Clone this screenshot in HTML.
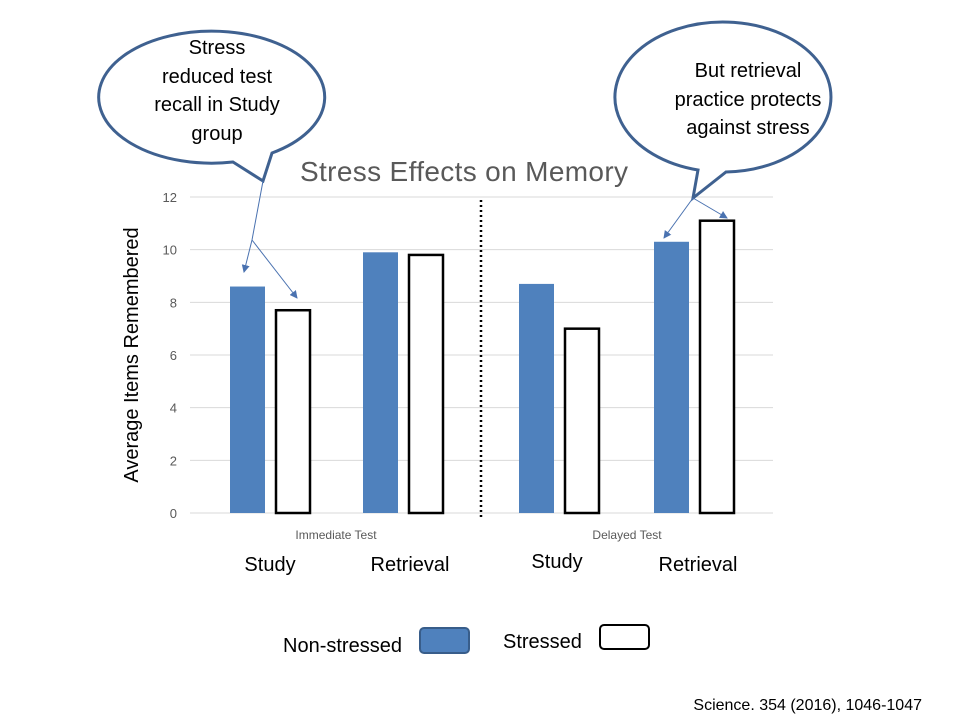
<!DOCTYPE html>
<html><head><meta charset="utf-8"><style>
body{margin:0;background:#fff;}
svg text{font-family:"Liberation Sans",sans-serif;}
</style></head><body>
<svg width="960" height="720" viewBox="0 0 960 720" xmlns="http://www.w3.org/2000/svg">
<defs><marker id="ah" markerWidth="8" markerHeight="8" refX="7" refY="4" orient="auto" markerUnits="userSpaceOnUse"><path d="M0,0 L8,4 L0,8 z" fill="#4a72b0"/></marker></defs>
<g id="grid"></g>
<g id="yticks"></g>
<g id="bars"></g>
<line x1="481" y1="200" x2="481" y2="520" stroke="#000" stroke-width="2.5" stroke-dasharray="2,3"/>
<text x="464" y="181" font-size="28" fill="#595959" text-anchor="middle" textLength="328">Stress Effects on Memory</text>
<text transform="translate(138,355) rotate(-90)" font-size="20" text-anchor="middle">Average Items Remembered</text>
<text x="336" y="539" font-size="12" fill="#595959" text-anchor="middle">Immediate Test</text>
<text x="627" y="539" font-size="12" fill="#595959" text-anchor="middle">Delayed Test</text>
<text x="270" y="571" font-size="20" text-anchor="middle">Study</text>
<text x="410" y="571" font-size="20" text-anchor="middle">Retrieval</text>
<text x="557" y="568" font-size="20" text-anchor="middle">Study</text>
<text x="698" y="571" font-size="20" text-anchor="middle">Retrieval</text>
<g>
<text x="283" y="652" font-size="20">Non-stressed</text>
<rect x="420" y="628" width="49" height="25" rx="4" fill="#4f81bd" stroke="#385d8a" stroke-width="2"/>
<text x="503" y="648" font-size="20">Stressed</text>
<rect x="600" y="625" width="49" height="24" rx="4" fill="#fff" stroke="#000" stroke-width="2"/>
</g>
<text x="922" y="710" font-size="16" text-anchor="end">Science. 354 (2016), 1046-1047</text>
<g>
<path d="M233,162 A113,66 0 1 1 272,153 L263,181 Z" fill="#fff" stroke="#3f6190" stroke-width="3" stroke-linejoin="miter"/>
<text font-size="20" text-anchor="middle"><tspan x="217" y="54">Stress</tspan><tspan x="217" y="83">reduced test</tspan><tspan x="217" y="111">recall in Study</tspan><tspan x="217" y="140">group</tspan></text>
</g>
<path d="M263,181 L252,240 L244,272" fill="none" stroke="#4a72b0" stroke-width="1" marker-end="url(#ah)"/>
<path d="M252,240 L297,298" fill="none" stroke="#4a72b0" stroke-width="1" marker-end="url(#ah)"/>
<g>
<path d="M698,170 A108,75 0 1 1 726,172 L693,198 Z" fill="#fff" stroke="#3f6190" stroke-width="3"/>
<text font-size="20" text-anchor="middle"><tspan x="748" y="77">But retrieval</tspan><tspan x="748" y="106">practice protects</tspan><tspan x="748" y="134">against stress</tspan></text>
</g>
<path d="M693,198 L664,238" fill="none" stroke="#4a72b0" stroke-width="1" marker-end="url(#ah)"/>
<path d="M693,198 L727,218" fill="none" stroke="#4a72b0" stroke-width="1" marker-end="url(#ah)"/>
</svg>
<script>
const yTicks=[0,2,4,6,8,10,12];
const groups=["Immediate Study","Immediate Retrieval","Delayed Study","Delayed Retrieval"];
const nonStressed=[8.6,9.9,8.7,10.3];
const stressed=[7.7,9.8,7.0,11.1];
const NS="http://www.w3.org/2000/svg";
const y=v=>513-v*(316/12);
const groupX=[230,363,519,654];
function mk(t,a){const e=document.createElementNS(NS,t);for(const k in a)e.setAttribute(k,a[k]);return e;}
const g=document.getElementById('grid'),yt=document.getElementById('yticks'),b=document.getElementById('bars');
yTicks.forEach(v=>{
 const l=mk('line',{x1:190,x2:773,y1:y(v),y2:y(v),stroke:'#d9d9d9','stroke-width':1});
 
 
 g.appendChild(l);
 const t=mk('text',{x:177,y:y(v)+5,'font-size':13,fill:'#595959','text-anchor':'end'});
 t.textContent=v;
 
 
 yt.appendChild(t);
});
groups.forEach((n,i)=>{
 const r1=mk('rect',{x:groupX[i],y:y(nonStressed[i]),width:35,height:y(0)-y(nonStressed[i]),fill:'#4f81bd'});
 
 
 b.appendChild(r1);
 const r2=mk('rect',{x:groupX[i]+46,y:y(stressed[i]),width:34,height:y(0)-y(stressed[i]),fill:'#fff',stroke:'#000','stroke-width':2.5});
 
 
 b.appendChild(r2);
});
</script>
</body></html>
